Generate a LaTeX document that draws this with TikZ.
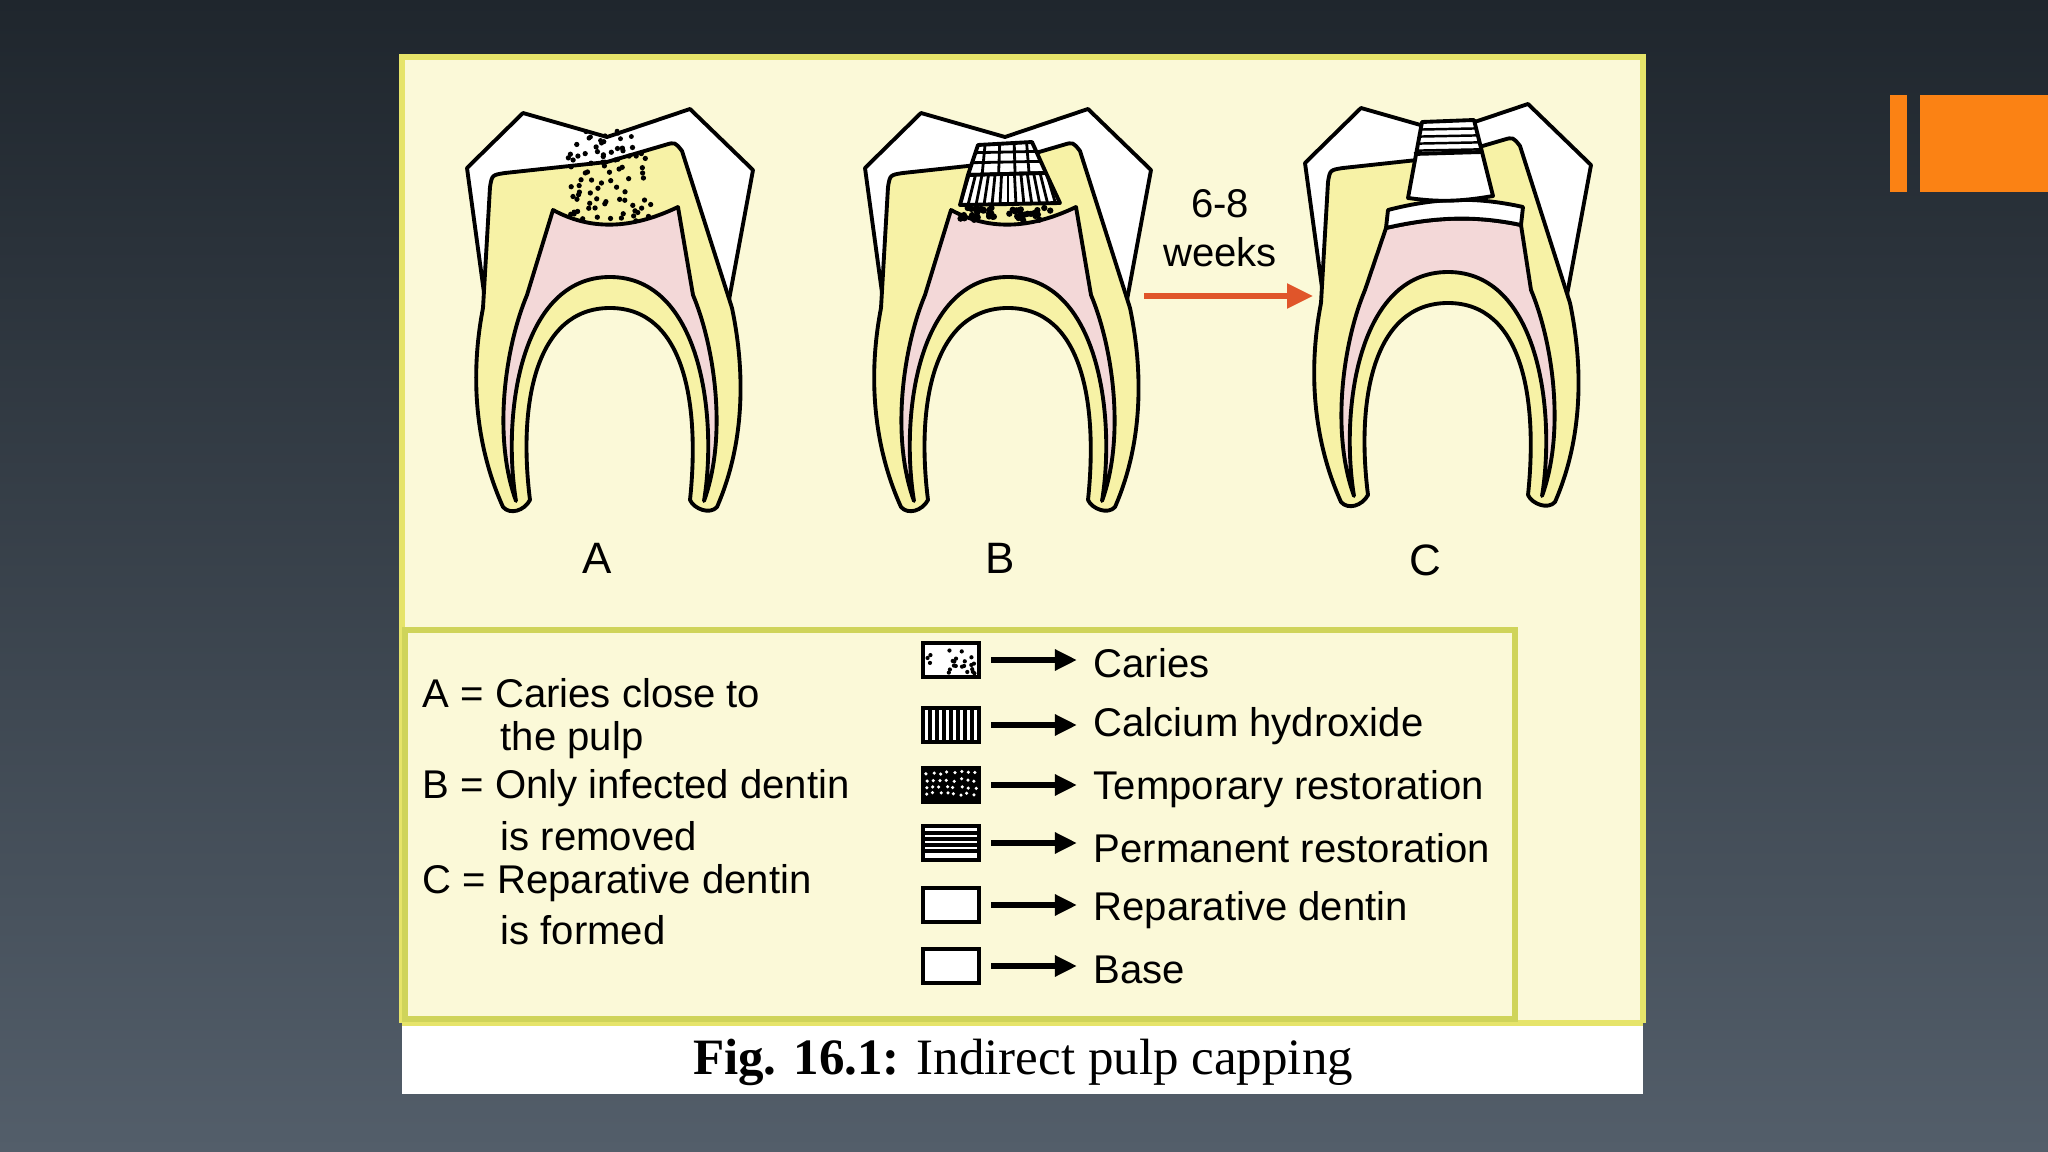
\documentclass[tikz,border=0pt]{standalone}
\usepackage{fontspec}
\setmainfont{Liberation Sans}
\newfontfamily\capfont{Liberation Serif}
\usetikzlibrary{arrows.meta}
\definecolor{bgtop}{HTML}{1F262D}
\definecolor{bgbot}{HTML}{535E6A}
\definecolor{panelc}{HTML}{FBF9D8}
\definecolor{panelb}{HTML}{E6E46A}
\definecolor{legb}{HTML}{CFD45A}
\definecolor{dentin}{HTML}{F7F2A6}
\definecolor{pulpc}{HTML}{F3D8D8}
\definecolor{redarr}{HTML}{E0552A}
\definecolor{orng}{HTML}{FB8214}
\tikzset{
 ol/.style={draw=black, line width=1.1pt, line join=round},
 enamel/.style={ol, fill=white},
 dent/.style={ol, fill=dentin},
 pulpst/.style={ol, fill=pulpc},
 legtext/.style={anchor=west, font=\fontsize{11.4}{13}\selectfont, inner sep=0pt},
 swatch/.style={draw=black, line width=1.2pt, fill=white, minimum width=0.56cm, minimum height=0.34cm, inner sep=0pt},
 legarrow/.style={line width=1.6pt, -{Triangle[length=0.22cm,width=0.2cm]}},
 toothlab/.style={font=\fontsize{12.5}{14}\selectfont},
}
\newcommand{\toothbase}{%
 \draw[enamel] (-143,73) -- (-87,18) -- (-3,42) -- (80,14) -- (143,75) -- (119,205) -- (-125,205) -- cycle;
 \draw[dent] (-107,412) .. controls (-135,350) and (-140,280) .. (-127,213) -- (-120,92) .. controls (-118,80) .. (-105,78) -- (-3,67) -- (55,50) .. controls (65,47) .. (72,56) -- (122,213) .. controls (136,280) and (134,350) .. (107,412) .. controls (100,420) and (84,414) .. (80,405) .. controls (90,310) and (75,213) .. (0,213) .. controls (-75,213) and (-92,310) .. (-80,405) .. controls (-86,416) and (-100,420) .. (-107,412) -- cycle;}
\newcommand{\mypulp}[1]{%
 \draw[pulpst] (-94,406) .. controls (-118,340) and (-104,250) .. (-83,200) #1 (83,200) .. controls (104,250) and (118,340) .. (94,406) .. controls (108,320) and (90,182) .. (0,182) .. controls (-90,182) and (-108,320) .. (-94,406) -- cycle;}
\begin{document}
\begin{tikzpicture}[x=0.01cm,y=-0.01cm]
\shade[top color=bgtop, bottom color=bgbot] (0,0) rectangle (2048,1152);
\useasboundingbox (0,0) rectangle (2048,1152);
\fill[orng] (1890,95) rectangle (1907,192);
\fill[orng] (1920,95) rectangle (2048,192);
% panel
\fill[panelc] (402,57) rectangle (1643,1023);
\draw[panelb, line width=1.6pt] (402,1023) -- (402,57) -- (1643,57) -- (1643,1023);
\fill[white] (402,1023) rectangle (1643,1094);
\draw[panelb, line width=1.6pt] (402,1023) -- (1643,1023);
\draw[legb, line width=1.6pt] (405,630) rectangle (1515,1019);

% Tooth A
\begin{scope}[shift={(610,95)}]
 \toothbase
 \mypulp{-- (-57,115) .. controls (-20,135) and (20,135) .. (68,112) --}
 \pgfmathsetseed{7}
 \foreach \i in {1,...,75} {
  \pgfmathsetmacro{\xx}{rnd*84-42}
  \pgfmathsetmacro{\yy}{48+rnd*78}
  \fill (\xx,\yy) circle (0.75pt);
 }
 \foreach \i in {1,...,12} {
  \pgfmathsetmacro{\xx}{rnd*50-25}
  \pgfmathsetmacro{\yy}{36+rnd*14}
  \fill (\xx,\yy) circle (0.7pt);
 }
\end{scope}
\node[toothlab] (la) at (597,558) {A};

% Tooth B
\begin{scope}[shift={(1008,95)}]
 \toothbase
 \mypulp{-- (-57,115) .. controls (-20,135) and (20,135) .. (68,112) --}
 \draw[ol, fill=white] (-30,50) -- (24,47) -- (38,78) -- (-40,80) -- cycle;
 \begin{scope}
  \clip (-30,50) -- (24,47) -- (38,78) -- (-40,80) -- cycle;
  \foreach \yy in {58,68} \draw[line width=0.8pt] (-50,\yy) -- (50,\yy-2);
  \foreach \xx in {-22,-8,6,18} \draw[line width=0.8pt] (\xx,40) -- (\xx*1.2,85);
 \end{scope}
 \draw[ol, fill=white] (-40,80) -- (38,78) -- (52,108) -- (-48,110) -- cycle;
 \begin{scope}
  \clip (-40,80) -- (38,78) -- (52,108) -- (-48,110) -- cycle;
  \foreach \xx in {-48,-40,...,52} \draw[line width=0.8pt] (\xx*0.8,78) -- (\xx,110);
 \end{scope}
 \pgfmathsetseed{11}
 \foreach \i in {1,...,45} {
  \pgfmathsetmacro{\xx}{rnd*96-48}
  \pgfmathsetmacro{\yy}{112+rnd*14}
  \fill (\xx,\yy) circle (0.9pt);
 }
\end{scope}
\node[toothlab] (lb) at (1000,558) {B};

% Tooth C
\begin{scope}[shift={(1448,90)}]
 \toothbase
 \mypulp{-- (-62,138) .. controls (-10,126) and (30,126) .. (73,135) --}
 \draw[ol, fill=white] (-60,120) .. controls (-10,107) and (30,107) .. (75,117) -- (73,135) .. controls (30,126) and (-10,126) .. (-62,138) -- cycle;
 \draw[ol, fill=white] (-26,32) -- (26,30) -- (45,106) .. controls (10,112) and (-10,112) .. (-40,108) -- cycle;
 \begin{scope}
  \clip (-26,32) -- (26,30) -- (45,106) -- (-40,108) -- cycle;
  \foreach \yy in {40,47,54,61} \draw[line width=0.7pt] (-50,\yy) -- (50,\yy-2);
 \end{scope}
 \draw[ol] (-34,64) -- (34,62);
\end{scope}
\node[toothlab] (lc) at (1425,560) {C};

% 6-8 weeks arrow
\node[font=\fontsize{11.4}{13}\selectfont, align=center] (wk) at (1220,228) {6-8\\[1pt]weeks};
\coordinate (arS) at (1144,296);
\coordinate (arE) at (1313,296);
\draw[redarr, line width=1.6pt, -{Triangle[length=0.26cm,width=0.24cm]}] (arS) -- (arE);

% legend left
\node[legtext] (t1) at (422,693) {A = Caries close to};
\node[legtext] (t2) at (500,740) {the pulp};
\node[legtext] (t3) at (422,788) {B = Only infected dentin};
\node[legtext] (t4) at (500,836) {is removed};
\node[legtext] (t5) at (422,883) {C = Reparative dentin};
\node[legtext] (t6) at (500,930) {is formed};

% legend right
\node[swatch] (s1) at (951,660) {};
\node[swatch] (s2) at (951,725) {};
\node[swatch, fill=black] (s3) at (951,785) {};
\node[swatch] (s4) at (951,843) {};
\node[swatch] (s5) at (951,905) {};
\node[swatch] (s6) at (951,966) {};
\begin{scope}
 \clip (s1.south west) rectangle (s1.north east);
 \pgfmathsetseed{3}
 \foreach \i in {1,...,22} {
  \pgfmathsetmacro{\xx}{926+rnd*50}
  \pgfmathsetmacro{\yy}{646+rnd*28}
  \fill (\xx,\yy) circle (0.6pt);
 }
\end{scope}
\foreach \xx in {930,937,...,972} \draw[line width=1pt] (\xx,708) -- (\xx,742);
\begin{scope}
 \clip (s3.south west) rectangle (s3.north east);
 \foreach \yy in {773,780,...,800} \foreach \xx in {926,933,...,976} \fill[white] (\xx+rand*1.5,\yy+rand*1.5) circle (0.5pt);
\end{scope}
\foreach \yy in {833,839,845,851} \draw[line width=1pt] (s4.west |- 0,\yy) -- (s4.east |- 0,\yy);
\node[legtext] (c1) at (1093,663) {Caries};
\node[legtext] (c2) at (1093,726) {Calcium hydroxide};
\node[legtext] (c3) at (1093,789) {Temporary restoration};
\node[legtext] (c4) at (1093,848) {Permanent restoration};
\node[legtext] (c5) at (1093,910) {Reparative dentin};
\node[legtext] (c6) at (1093,970) {Base};
\foreach \k in {1,...,6} \draw[legarrow] ([xshift=0.1cm]s\k.east) -- ([xshift=-0.16cm]c\k.west |- s\k.east);

% caption
\node[font=\capfont\fontsize{14.5}{16}\selectfont] (cap) at (1023,1062) {\textbf{Fig. 16.1:} Indirect pulp capping};
\end{tikzpicture}
\end{document}
